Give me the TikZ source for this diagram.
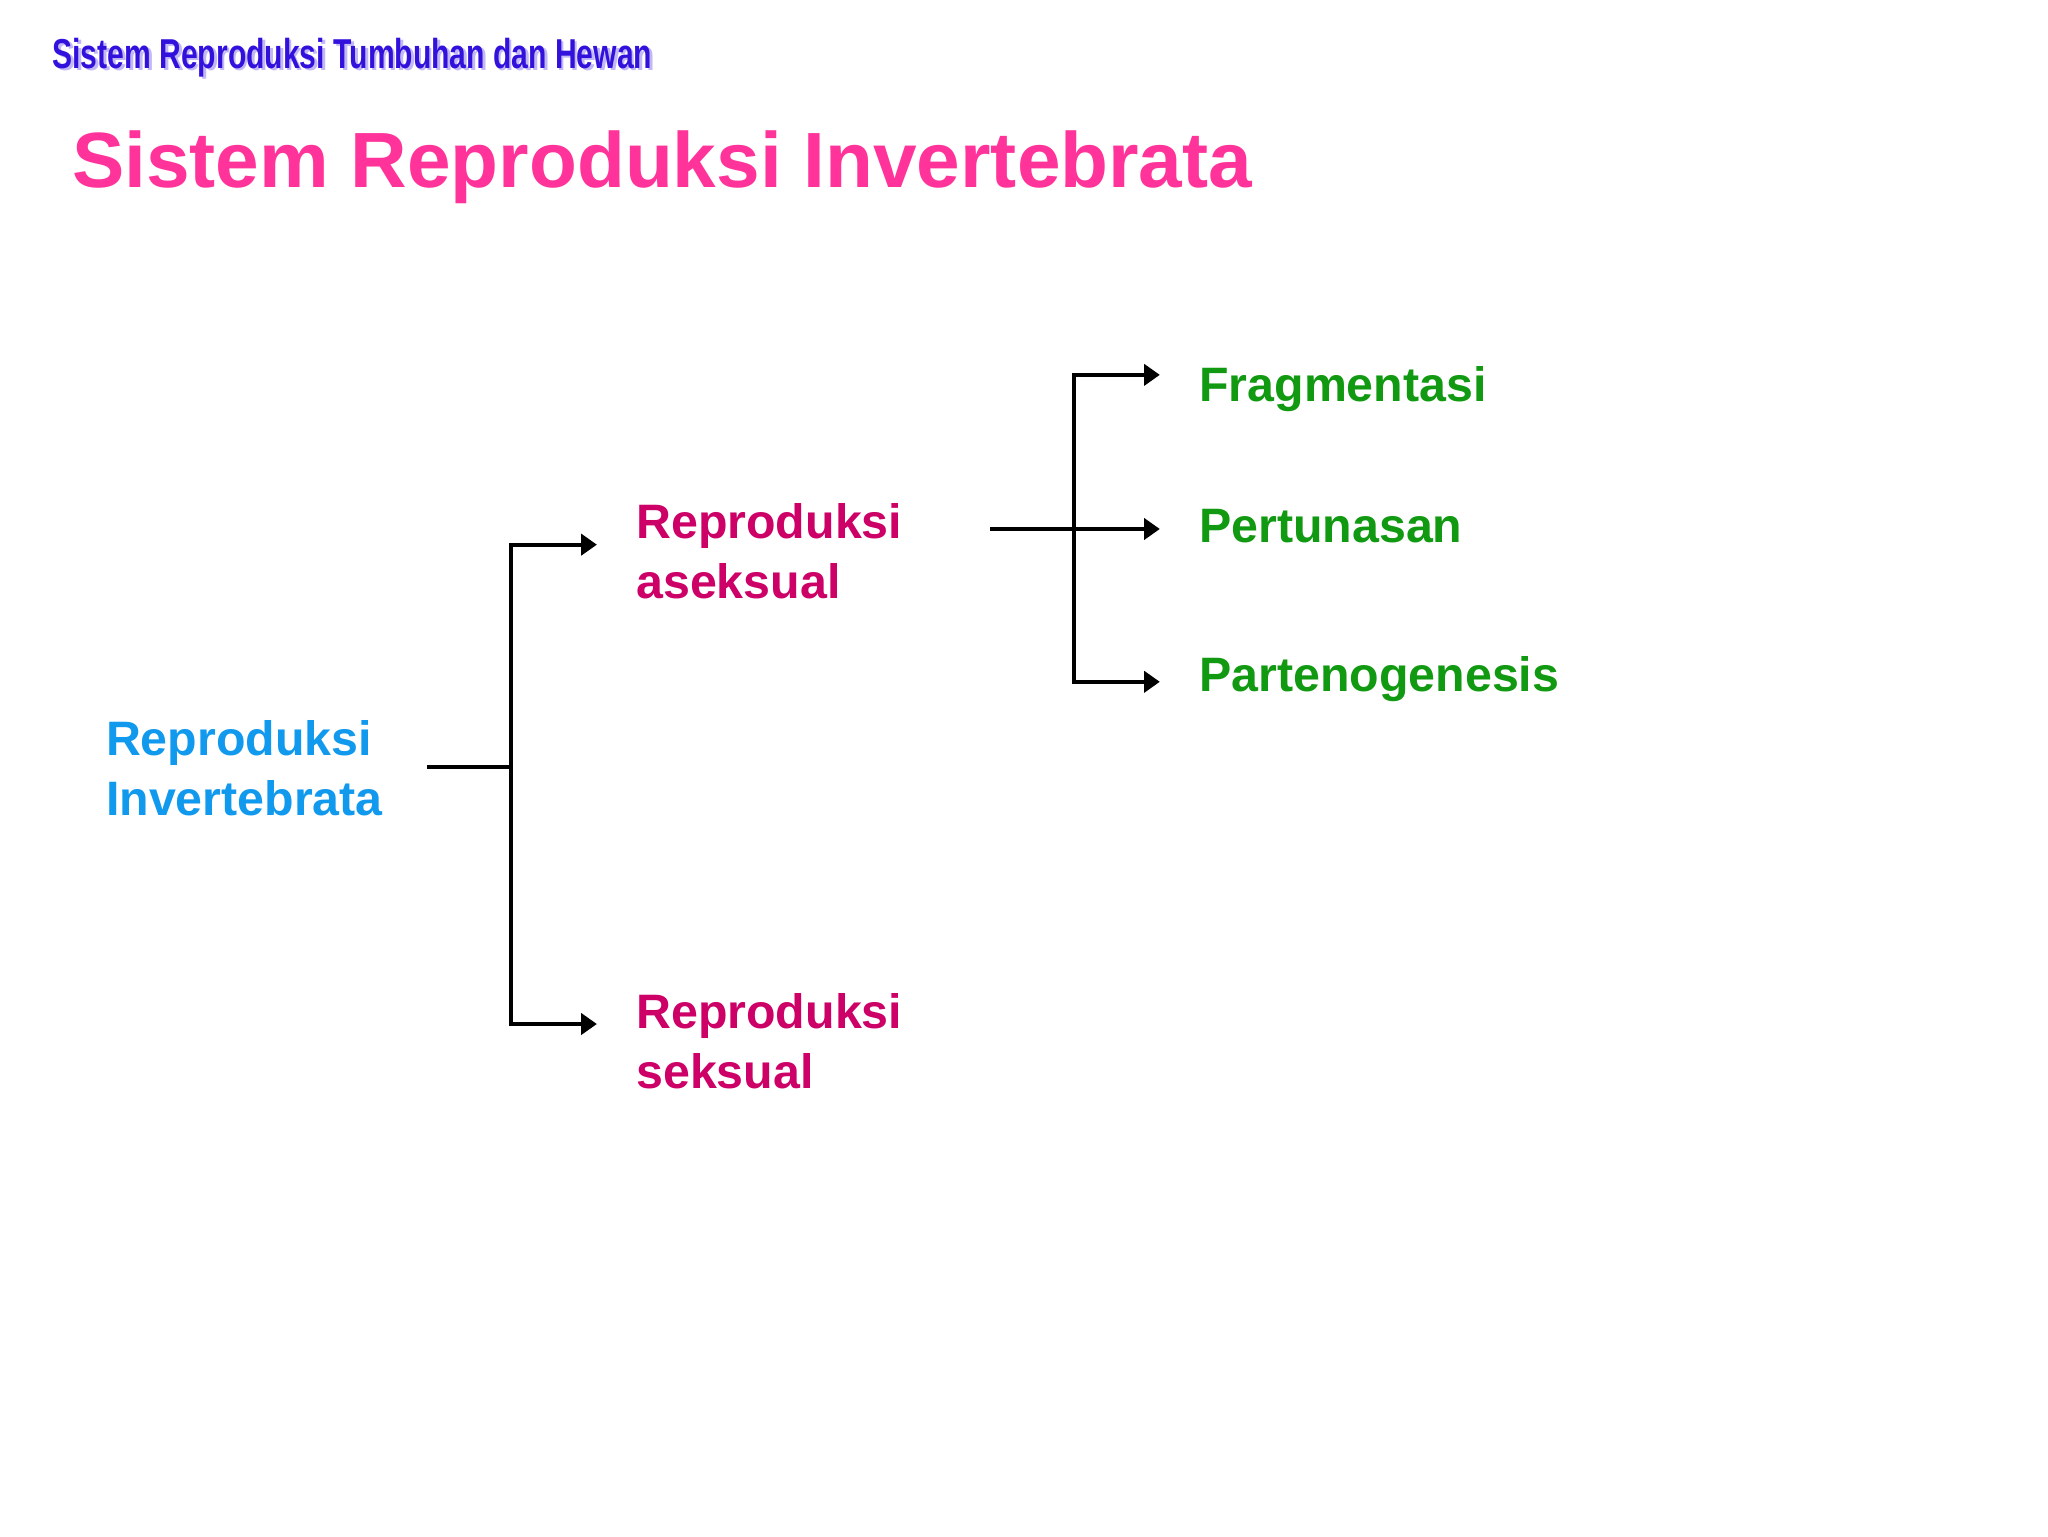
\documentclass[tikz,border=0pt]{standalone}
\usepackage{fontspec}
\setmainfont{Liberation Sans}
\usetikzlibrary{arrows.meta}
\definecolor{ttl}{HTML}{FF3399}
\definecolor{mag}{HTML}{CC0066}
\definecolor{blu}{HTML}{1199EE}
\definecolor{grn}{HTML}{119911}
\definecolor{hdr}{HTML}{3311DD}
\begin{document}
\begin{tikzpicture}[x=1pt,y=-1pt,
  lab/.style={anchor=west,font=\fontsize{37}{46}\selectfont\bfseries,align=left,inner sep=0},
  ln/.style={line width=3pt},
  arr/.style={ln,-{Triangle[length=12pt,width=16pt]}}]
\useasboundingbox (0,0) rectangle (1568,1176);
\node[anchor=west,inner sep=0,text=hdr!30] (hs) at (42,46) {\scalebox{0.72}[1]{\fontsize{32}{36}\selectfont\bfseries Sistem Reproduksi Tumbuhan dan Hewan}};
\node[anchor=west,inner sep=0,text=hdr] (h) at (40,44) {\scalebox{0.72}[1]{\fontsize{32}{36}\selectfont\bfseries Sistem Reproduksi Tumbuhan dan Hewan}};
\node[anchor=west,inner sep=0,text=ttl,font=\fontsize{60}{70}\selectfont\bfseries] (t) at (55,128) {Sistem Reproduksi Invertebrata};
\node[lab,text=blu] (ri) at (81,588) {Reproduksi\\Invertebrata};
\node[lab,text=mag] (ra) at (487,422) {Reproduksi\\aseksual};
\node[lab,text=mag] (rs) at (487,797) {Reproduksi\\seksual};
\node[lab,text=grn] (f) at (918,298) {Fragmentasi};
\node[lab,text=grn] (p) at (918,403) {Pertunasan};
\node[lab,text=grn] (pg) at (918,520) {Partenogenesis};
\coordinate (a0) at (327,587);
\coordinate (a1) at (391,587);
\coordinate (au) at (391,417);
\coordinate (ad) at (391,784);
\coordinate (eu) at (457,417);
\coordinate (ed) at (457,784);
\draw[ln] (a0) -- (a1);
\draw[arr] (au) -- (ad) -- (ed);
\draw[arr] (ad) -- (au) -- (eu);
\coordinate (b0) at (758,405);
\coordinate (bu) at (822,287);
\coordinate (bd) at (822,522);
\draw[arr] (b0) -- (888,405);
\draw[arr] (bd) -- (bu) -- (888,287);
\draw[arr] (bu) -- (bd) -- (888,522);
\end{tikzpicture}
\end{document}
